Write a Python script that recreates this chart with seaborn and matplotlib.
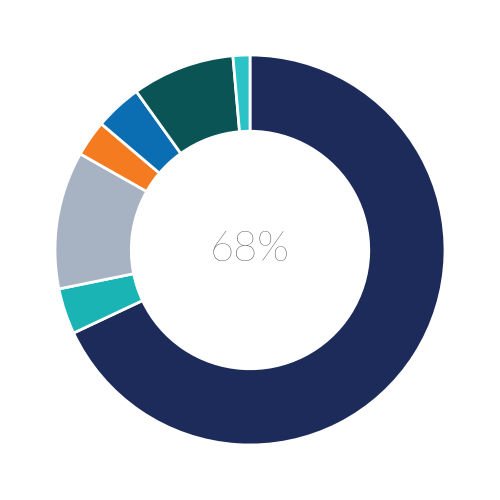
import matplotlib
matplotlib.use("Agg")
import matplotlib.pyplot as plt
import seaborn as sns

sns.set_theme(style="white")
plt.rcParams['font.family'] = ['Lato', 'DejaVu Sans']

labels = ["Navy", "Teal", "Gray", "Orange", "Blue", "Dark green", "Light teal"]
values = [68, 3.8, 11.4, 3.0, 3.9, 8.5, 1.4]
colors = ["#1c2b5a", "#1ab4b4", "#a7b3c2", "#f47b20", "#0b6eb2", "#0a5456", "#2cc3c6"]
center_text = "68%"

fig, ax = plt.subplots(figsize=(5, 5), dpi=100)
fig.subplots_adjust(0, 0, 1, 1)
ax.pie(values, colors=colors, startangle=90, counterclock=False, radius=0.78,
       wedgeprops=dict(width=0.305, edgecolor="white", linewidth=2))
ax.text(0, 0, center_text, ha="center", va="center", fontsize=30, color="#3a3f47", fontweight="light")
ax.set_xlim(-1, 1); ax.set_ylim(-1, 1)
ax.set_aspect("equal")
ax.axis("off")
fig.savefig("out.png", dpi=100, facecolor="white")
